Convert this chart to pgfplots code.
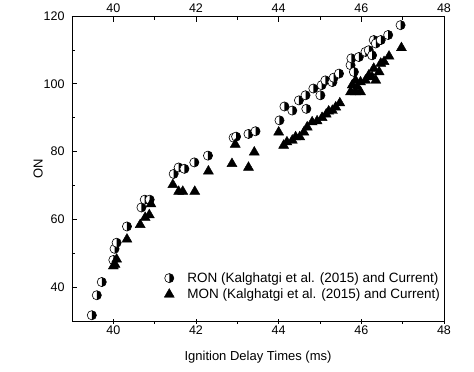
\documentclass[border=0pt]{standalone}
\usepackage{fontspec}
\setmainfont{Liberation Sans}
\usepackage{pgfplots}
\pgfplotsset{compat=1.18}
\pgfdeclareplotmark{halfcirc}{%
  \pgfpathcircle{\pgfpointorigin}{\pgfplotmarksize}%
  \pgfusepathqfillstroke
  \pgfscope
  \pgfsetfillcolor{black}%
  \pgfpathmoveto{\pgfqpoint{0pt}{\pgfplotmarksize}}%
  \pgfpatharc{90}{-90}{\pgfplotmarksize}%
  \pgfpathclose
  \pgfusepathqfill
  \endpgfscope
}
\pgfplotstableread{
x y
39.48 31.7
39.60 37.6
39.72 41.5
40.00 48.0
40.03 51.3
40.08 53.1
40.33 57.9
40.68 63.5
40.76 65.8
40.88 65.8
41.46 73.4
41.58 75.3
41.72 74.9
41.96 76.8
42.29 78.8
42.91 84.1
42.97 84.4
43.27 85.2
43.44 86.0
44.02 89.2
44.14 93.3
44.33 92.1
44.49 95.1
44.65 96.6
44.67 92.6
44.84 98.6
45.01 96.6
45.04 99.6
45.13 101.0
45.30 100.5
45.33 101.8
45.46 103.0
45.74 105.5
45.76 107.5
45.82 103.5
45.94 107.9
46.10 109.4
46.18 109.9
46.26 108.4
46.30 112.9
46.35 111.9
46.47 112.9
46.65 114.4
46.95 117.3
}\ron
\pgfplotstableread{
x y
40.00 46.2
40.04 46.7
40.08 48.2
40.33 54.1
40.65 58.4
40.77 60.5
40.87 61.3
40.91 64.5
41.44 70.2
41.58 68.2
41.68 68.2
41.97 68.2
42.30 74.2
42.87 76.4
42.95 82.1
43.27 75.3
43.41 79.8
44.00 85.7
44.12 81.8
44.20 82.8
44.33 83.3
44.41 84.3
44.51 84.3
44.61 85.7
44.69 87.2
44.81 88.7
44.93 89.0
45.05 90.0
45.15 91.0
45.21 91.9
45.30 92.1
45.38 93.1
45.48 94.3
45.74 97.6
45.78 99.6
45.86 97.6
45.90 99.1
45.98 97.6
45.86 101.0
45.98 100.5
46.10 101.0
46.18 102.5
46.26 102.0
46.30 104.5
46.35 101.0
46.43 103.5
46.47 106.0
46.55 106.5
46.67 108.1
46.97 110.6
}\mon
\begin{document}
\begin{tikzpicture}
\useasboundingbox (-72pt,-51pt) rectangle (402pt,321pt);
\begin{axis}[
  at={(0,0)}, anchor=south west,
  scale only axis, width=372pt, height=305pt,
  xmin=39, xmax=48, ymin=30, ymax=120,
  xtick={40,42,44,46,48}, ytick={40,60,80,100,120},
  minor x tick num=1, minor y tick num=1,
  xtick pos=bottom, ytick pos=left,
  tick align=inside,
  major tick length=5pt, minor tick length=3pt,
  x tick style={yshift=-2.5pt},
  every tick/.style={black, line width=0.7pt},
  axis line style={line width=0.9pt},
  /pgf/number format/assume math mode=true,
  tick label style={font=\fontsize{12.5}{14}\selectfont},
  xticklabel style={yshift=-1pt},
  yticklabel style={xshift=-4pt},
  label style={font=\fontsize{13}{15}\selectfont},
  xlabel={Ignition Delay Times (ms)},
  ylabel={ON},
  xlabel style={at={(axis description cs:0.5,0)}, anchor=center, yshift=-36pt},
  ylabel style={at={(axis description cs:-0.091,0.5)}, anchor=center},
  legend style={draw=none, fill=none, at={(1.003,0.055)}, anchor=south east,
    font=\fontsize{13.5}{15}\selectfont, row sep=1pt,
    /tikz/every odd column/.append style={column sep=11pt}},
  legend cell align=left,
]
\addplot[only marks, mark=halfcirc, mark size=4.6pt, mark options={draw=black, fill=white, line width=0.6pt}] table[x=x,y=y] {\ron};
\addlegendentry{RON (Kalghatgi et al. (2015) and Current)}
\addplot[only marks, mark=triangle*, mark size=5.8pt, mark options={draw=black, fill=black}] table[x=x,y=y] {\mon};
\addlegendentry{MON (Kalghatgi et al. (2015) and Current)}
\end{axis}
\begin{axis}[
  at={(0,0)}, anchor=south west,
  scale only axis, width=372pt, height=305pt,
  xmin=39, xmax=48, ymin=30, ymax=120,
  axis x line*=top, axis y line=none,
  xtick={40,42,44,46,48}, minor x tick num=1,
  tick align=inside,
  major tick length=6pt, minor tick length=4pt,
  every tick/.style={black, line width=0.7pt},
  axis line style={line width=0.9pt},
  /pgf/number format/assume math mode=true,
  tick label style={font=\fontsize{12.5}{14}\selectfont},
]
\end{axis}
\end{tikzpicture}
\end{document}
